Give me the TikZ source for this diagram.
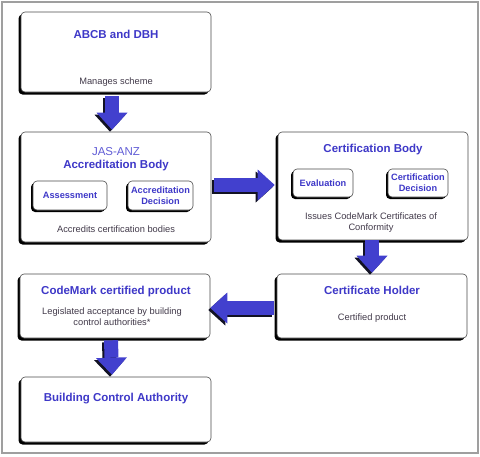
\documentclass[tikz,border=0pt]{standalone}
\usepackage{fontspec}
\setmainfont{Liberation Sans}
\usetikzlibrary{arrows.meta,shadows}

\definecolor{titleblue}{RGB}{62,56,200}
\definecolor{paleblue}{RGB}{96,92,214}
\definecolor{notegrey}{RGB}{66,58,74}
\definecolor{arrowblue}{RGB}{66,64,206}
\definecolor{arrowdark}{RGB}{18,18,36}

\tikzset{
	boxbase/.style={draw=gray!60!black, fill=white, rounded corners=4pt, line width=0.6pt},
	panel/.style={boxbase, minimum width=190pt,
		drop shadow={shadow xshift=-2.5pt, shadow yshift=-2.5pt, fill=black, opacity=1}},
	subbox/.style={boxbase, minimum width=60pt, minimum height=28pt, inner sep=1pt,
		align=center, text=titleblue, font=\fontsize{9.2}{11}\selectfont\bfseries,
		drop shadow={shadow xshift=-2pt, shadow yshift=-2pt, fill=black, opacity=1}},
	title/.style={inner sep=0pt, anchor=base, text=titleblue,
		font=\fontsize{11.5}{13}\selectfont\bfseries},
	note/.style={inner sep=0pt, anchor=base, align=center, text=notegrey,
		font=\fontsize{9.3}{11}\selectfont},
	bigarrow/.style={draw=arrowblue, line width=14pt,
		-{Triangle[width=31pt, length=17pt, line width=0pt]}}
}

% block arrow with its dark shadow
\newcommand{\blockarrow}[2]{%
	\draw[bigarrow, draw=arrowdark, transform canvas={shift={(-2pt,-2pt)}}] #1 -- #2;
	\draw[bigarrow] #1 -- #2;
}

\begin{document}
\begin{tikzpicture}[x=1pt, y=-1pt]
	\useasboundingbox (0,0) rectangle (480,456);
	\draw[gray!75, line width=1.5pt] (2,2) rectangle (478,453);

	% boxes
	\node[panel, minimum height=80pt] (abcb) at (116,52) {};
	\node[panel, minimum height=110pt] (jas) at (116,187) {};
	\node[panel, minimum height=108pt] (cb) at (373,186) {};
	\node[panel, minimum height=64pt] (holder) at (372,306) {};
	\node[panel, minimum height=64pt] (product) at (115,306) {};
	\node[panel, minimum height=65pt] (bca) at (116,409.5) {};

	% ABCB and DBH
	\node[title] (abcbtitle) at ([yshift=-27pt]abcb.north) {ABCB and DBH};
	\node[note] (abcbnote) at ([yshift=-72.5pt]abcb.north) {Manages scheme};

	% accreditation body
	\node[title, font=\fontsize{11.5}{13}\selectfont, text=paleblue] (jasname) at ([yshift=-24pt]jas.north) {JAS-ANZ};
	\node[title] (jastitle) at ([yshift=-37pt]jas.north) {Accreditation Body};
	\node[subbox, minimum width=74pt, minimum height=29pt] (assess) at ([xshift=-46pt,yshift=-8.5pt]jas.center) {Assessment};
	\node[subbox, minimum width=65pt, minimum height=29pt] (accdec) at ([xshift=44.5pt,yshift=-8.5pt]jas.center) {Accreditation\\Decision};
	\node[note] (jasnote) at ([yshift=-100.5pt]jas.north) {Accredits certification bodies};

	% certification body
	\node[title] (cbtitle) at ([yshift=-21pt]cb.north) {Certification Body};
	\node[subbox] (evaluate) at ([xshift=-50pt,yshift=3pt]cb.center) {Evaluation};
	\node[subbox] (certdec) at ([xshift=45pt,yshift=3pt]cb.center) {Certification\\Decision};
	\node[note, anchor=north] (cbnote) at ([xshift=-2pt,yshift=-80.6pt]cb.north) {Issues CodeMark Certificates of\\Conformity};

	% certificate holder
	\node[title] (holdertitle) at ([yshift=-21pt]holder.north) {Certificate Holder};
	\node[note] (holdernote) at ([yshift=-46.5pt]holder.north) {Certified product};

	% certified product
	\node[title] (producttitle) at ([xshift=1pt,yshift=-21pt]product.north) {CodeMark certified product};
	\node[note, anchor=north] (productnote) at ([xshift=-3pt,yshift=-33.6pt]product.north) {Legislated acceptance by building\\control authorities*};

	% building control authority
	\node[title] (bcatitle) at ([yshift=-25pt]bca.north) {Building Control Authority};

	% arrows
	\blockarrow{([xshift=-4pt,yshift=-4pt]abcb.south)}{([xshift=-4pt,yshift=2pt]jas.north)}
	\blockarrow{([xshift=3pt,yshift=2pt]jas.east)}{([xshift=-3pt,yshift=1pt]cb.west)}
	\blockarrow{([xshift=-1pt]cb.south)}{([yshift=1pt]holder.north)}
	\blockarrow{([xshift=-3pt,yshift=-2pt]holder.west)}{([yshift=-2pt]product.east)}
	\blockarrow{([xshift=-4pt,yshift=-2pt]product.south)}{([xshift=-4pt,yshift=2pt]bca.north)}
\end{tikzpicture}
\end{document}
